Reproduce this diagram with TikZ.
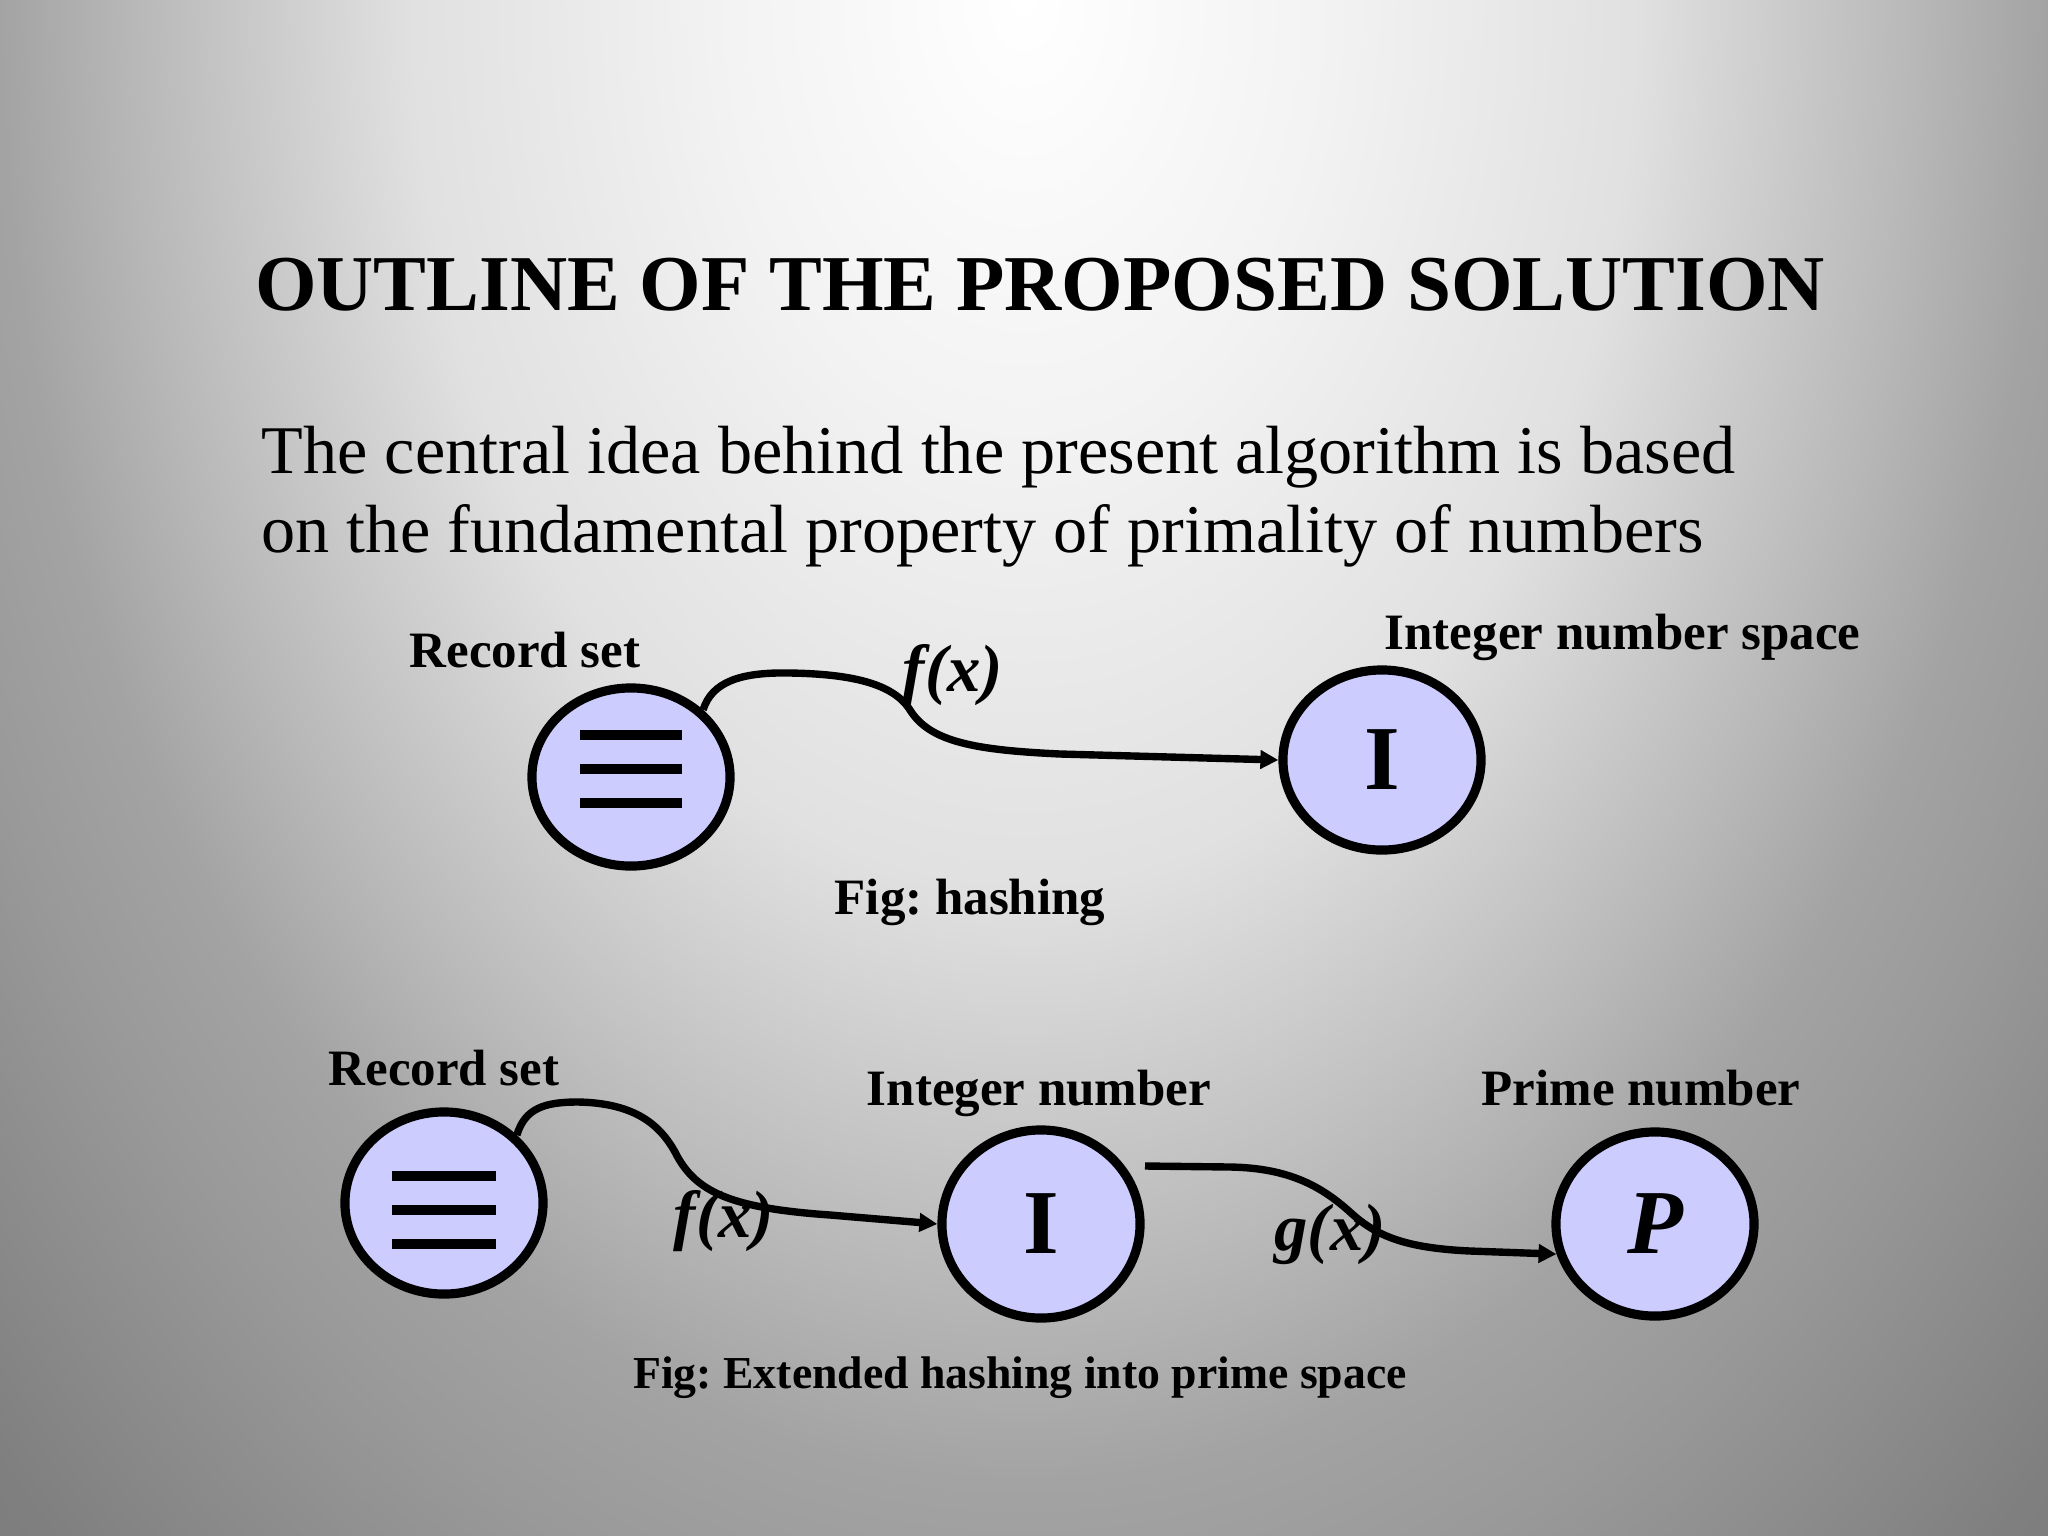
\documentclass[tikz,border=0pt]{standalone}
\usepackage{fontspec}
\setmainfont{Liberation Serif}
\usetikzlibrary{shapes.geometric,arrows.meta,calc}
\definecolor{lav}{HTML}{CCCCFF}
\pgfdeclareradialshading{bgshade}{\pgfpoint{0bp}{0bp}}{color(0bp)=(white); color(5bp)=(black!5); color(10bp)=(black!12); color(14.5bp)=(black!28); color(16.65bp)=(black!36); color(18.85bp)=(black!40); color(23.35bp)=(black!50); color(25bp)=(black!52); color(50bp)=(black!52)}
\frenchspacing
\begin{document}
\begin{tikzpicture}[x=0.01cm,y=-0.01cm,
  ell/.style={ellipse, draw=black, line width=2.6pt, fill=lav, minimum width=1.98cm, minimum height=1.82cm, inner sep=0pt},
  conn/.style={line width=2.1pt, -{Triangle[length=0.18cm,width=0.18cm]}},
  lbl/.style={font=\bfseries\fontsize{14.5}{17}\selectfont, inner sep=0pt},
  body/.style={font=\fontsize{19.4}{22.5}\selectfont, inner sep=0pt, anchor=base west},
  fn/.style={font=\bfseries\itshape\fontsize{19}{22}\selectfont, inner sep=0pt},
  big/.style={font=\bfseries\fontsize{26}{30}\selectfont},
  bar/.style={line width=0.1cm}]
\useasboundingbox (0,0) rectangle (2048,1536);
\begin{scope}
  \clip (0,0) rectangle (2048,1536);
  \shade[shading=bgshade] (1024,0) ellipse [x radius=15.36cm, y radius=22.2cm];
\end{scope}

\node[font=\bfseries\fontsize{22.5}{27}\selectfont, inner sep=0pt] (title) at (1040,285) {OUTLINE OF THE PROPOSED SOLUTION};
\node[body] (body1) at (261,473) {The central idea behind the present algorithm is based};
\node[body] (body2) at (261,552) {on the fundamental property of primality of numbers};

% top figure
\node[lbl, anchor=base] (rs1lbl) at (525,667) {Record set};
\node[lbl, anchor=base west] (inslbl) at (1384,649) {Integer number space};
\node[ell, minimum height=1.78cm] (rs1) at (631,777) {};
\foreach \dy in {-42,-8,26} \draw[bar] ($(rs1.center)+(-51,\dy)$) -- ++(102,0);
\node[ell, minimum height=1.80cm, big] (i1) at (1382,760) {I};
\draw[conn] (rs1.43) .. controls (712,682) and (740,672) .. (790,673)
  .. controls (850,674) and (893,683) .. (910,710)
  .. controls (930,742) and (975,750) .. (1060,754) -- (i1.west);
\node[fn] (fx1) at (953,675) {f(x)};
\node[lbl, anchor=base] (cap1) at (970,914) {Fig: hashing};

% bottom figure
\node[lbl, anchor=base] (rs2lbl) at (444,1085) {Record set};
\node[lbl, anchor=base] (inlbl) at (1039,1105) {Integer number};
\node[lbl, anchor=base] (pnlbl) at (1641,1105) {Prime number};
\node[ell] (rs2) at (444,1203) {};
\foreach \dy in {-27,7,41} \draw[bar] ($(rs2.center)+(-52,\dy)$) -- ++(104,0);
\node[ell, minimum height=1.88cm, big] (i2) at (1041,1224) {I};
\node[ell, minimum height=1.84cm, big] (p) at (1655,1224) {\itshape P};
\draw[conn] (rs2.43) .. controls (525,1108) and (545,1102) .. (578,1102)
  .. controls (635,1103) and (660,1125) .. (675,1152)
  .. controls (695,1192) and (730,1208) .. (830,1215) -- (i2.west);
\coordinate (g0) at (1145,1166);
\draw[conn] (g0) -- (1230,1167) .. controls (1290,1168) and (1322,1187) .. (1350,1212)
  .. controls (1376,1236) and (1405,1248) .. (1470,1251) -- (p.197);
\node[fn] (fx2) at (724,1221) {f(x)};
\node[fn] (gx) at (1330,1234) {g(x)};
\node[lbl, anchor=base, font=\bfseries\fontsize{13}{16}\selectfont] (cap2) at (1020,1388) {Fig: Extended hashing into prime space};
\end{tikzpicture}
\end{document}
